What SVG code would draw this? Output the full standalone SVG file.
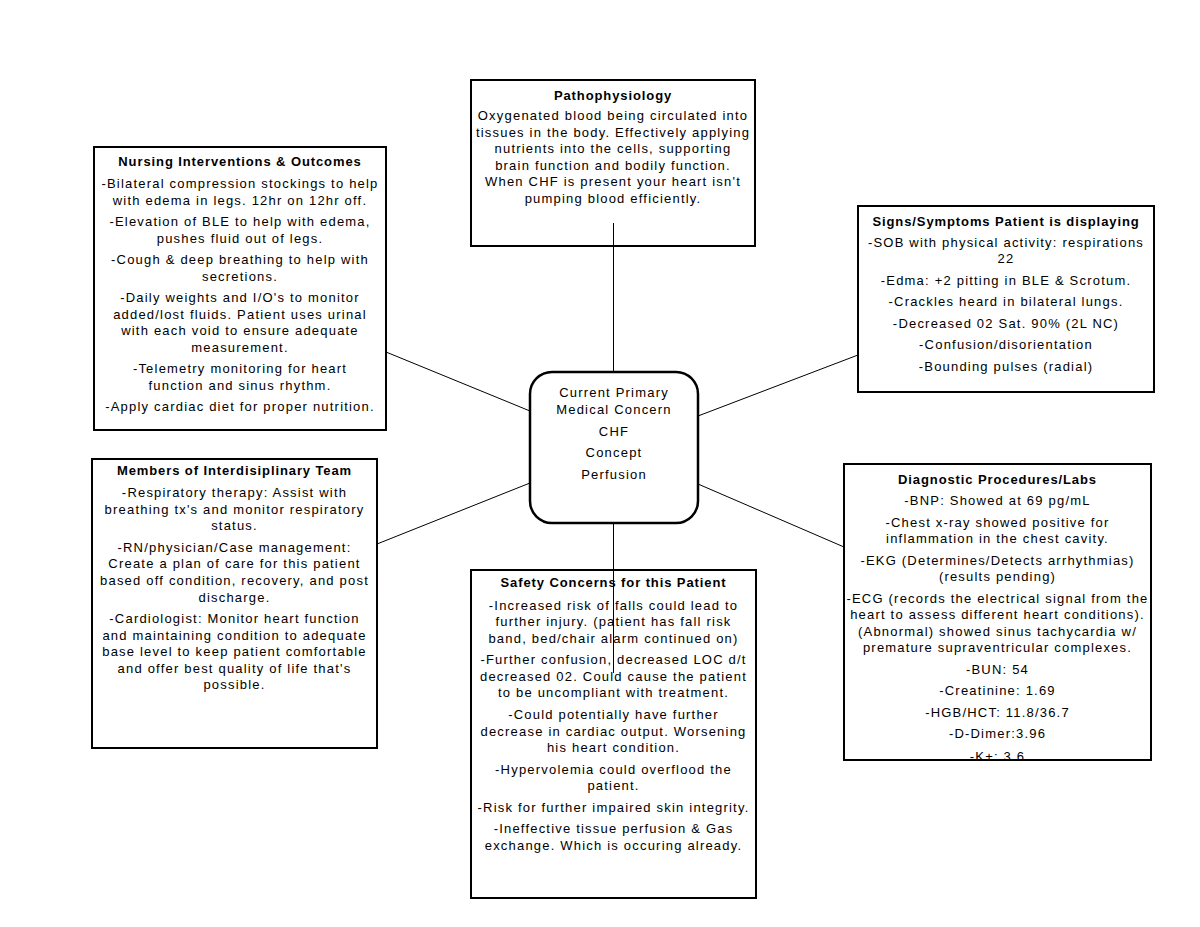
<svg xmlns="http://www.w3.org/2000/svg" width="1200" height="927" viewBox="0 0 1200 927">
<style>
.box{fill:#fff;stroke:#000;stroke-width:2}
.t{font-family:"Liberation Sans",Arial,sans-serif;font-size:13px;letter-spacing:1.2px;text-anchor:middle;fill:#000}
.h{font-weight:bold;letter-spacing:0.9px}
.c{stroke:#000;stroke-width:1;fill:none}
</style>
<defs>
<clipPath id="diagClip"><rect x="844" y="464" width="307" height="296"/></clipPath>
</defs>
<rect width="1200" height="927" fill="#fff"/>

<g id="patho">
<rect class="box" x="471" y="80" width="284" height="166"/>
<text class="t h" x="613" y="99.5">Pathophysiology</text>
<text class="t" x="613" y="120">Oxygenated blood being circulated into</text>
<text class="t" x="613" y="136.6">tissues in the body. Effectively applying</text>
<text class="t" x="613" y="153.2">nutrients into the cells, supporting</text>
<text class="t" x="613" y="169.8">brain function and bodily function.</text>
<text class="t" x="613" y="186.4">When CHF is present your heart isn't</text>
<text class="t" x="613" y="203">pumping blood efficiently.</text>
</g>

<g id="nursing">
<rect class="box" x="94" y="147" width="292" height="283"/>
<text class="t h" x="240" y="166">Nursing Interventions &amp; Outcomes</text>
<text class="t" x="240" y="188">-Bilateral compression stockings to help</text>
<text class="t" x="240" y="204.6">with edema in legs. 12hr on 12hr off.</text>
<text class="t" x="240" y="226">-Elevation of BLE to help with edema,</text>
<text class="t" x="240" y="242.6">pushes fluid out of legs.</text>
<text class="t" x="240" y="264">-Cough &amp; deep breathing to help with</text>
<text class="t" x="240" y="280.6">secretions.</text>
<text class="t" x="240" y="302">-Daily weights and I/O's  to monitor</text>
<text class="t" x="240" y="318.6">added/lost fluids. Patient uses urinal</text>
<text class="t" x="240" y="335.2">with each void to ensure adequate</text>
<text class="t" x="240" y="351.8">measurement.</text>
<text class="t" x="240" y="373.3">-Telemetry monitoring for heart</text>
<text class="t" x="240" y="389.9">function and sinus rhythm.</text>
<text class="t" x="240" y="411.4">-Apply cardiac diet for proper nutrition.</text>
</g>

<g id="signs">
<rect class="box" x="858" y="206" width="296" height="186"/>
<text class="t h" x="1006" y="226">Signs/Symptoms Patient is displaying</text>
<text class="t" x="1006" y="246.5">-SOB with physical activity: respirations</text>
<text class="t" x="1006" y="263">22</text>
<text class="t" x="1006" y="284.5">-Edma: +2 pitting in BLE &amp; Scrotum.</text>
<text class="t" x="1006" y="306">-Crackles heard in bilateral lungs.</text>
<text class="t" x="1006" y="327.5">-Decreased 02 Sat. 90% (2L NC)</text>
<text class="t" x="1006" y="349">-Confusion/disorientation</text>
<text class="t" x="1006" y="370.5">-Bounding pulses (radial)</text>
</g>

<g id="center">
<rect class="box" x="530" y="372" width="168" height="151" rx="22" ry="22" style="stroke-width:2.5"/>
<text class="t" x="614" y="396.5">Current Primary</text>
<text class="t" x="614" y="413.5">Medical Concern</text>
<text class="t" x="614" y="435.5">CHF</text>
<text class="t" x="614" y="456.5">Concept</text>
<text class="t" x="614" y="478.5">Perfusion</text>
</g>

<g id="members">
<rect class="box" x="92" y="459" width="285" height="289"/>
<text class="t h" x="234.5" y="475">Members of Interdisiplinary Team</text>
<text class="t" x="234.5" y="497">-Respiratory therapy: Assist with</text>
<text class="t" x="234.5" y="513.6">breathing tx's and monitor respiratory</text>
<text class="t" x="234.5" y="530.2">status.</text>
<text class="t" x="234.5" y="551.7">-RN/physician/Case management:</text>
<text class="t" x="234.5" y="568.3">Create a plan of care for this patient</text>
<text class="t" x="234.5" y="584.9">based off condition, recovery, and post</text>
<text class="t" x="234.5" y="601.5">discharge.</text>
<text class="t" x="234.5" y="623">-Cardiologist: Monitor heart function</text>
<text class="t" x="234.5" y="639.6">and maintaining condition to adequate</text>
<text class="t" x="234.5" y="656.2">base level to keep patient comfortable</text>
<text class="t" x="234.5" y="672.8">and offer best quality of life that's</text>
<text class="t" x="234.5" y="689.4">possible.</text>
</g>

<g id="diagnostic">
<rect class="box" x="844" y="464" width="307" height="296"/>
<g clip-path="url(#diagClip)">
<text class="t h" x="997.5" y="483.5">Diagnostic Procedures/Labs</text>
<text class="t" x="997.5" y="505">-BNP: Showed at 69 pg/mL</text>
<text class="t" x="997.5" y="526.5">-Chest x-ray showed positive for</text>
<text class="t" x="997.5" y="543">inflammation in the chest cavity.</text>
<text class="t" x="997.5" y="564.5">-EKG (Determines/Detects arrhythmias)</text>
<text class="t" x="997.5" y="581">(results pending)</text>
<text class="t" x="997.5" y="602.5">-ECG (records the electrical signal from the</text>
<text class="t" x="997.5" y="619">heart to assess different heart conditions).</text>
<text class="t" x="997.5" y="635.5">(Abnormal) showed sinus tachycardia w/</text>
<text class="t" x="997.5" y="652">premature supraventricular complexes.</text>
<text class="t" x="997.5" y="673.5">-BUN: 54</text>
<text class="t" x="997.5" y="695">-Creatinine: 1.69</text>
<text class="t" x="997.5" y="716.5">-HGB/HCT: 11.8/36.7</text>
<text class="t" x="997.5" y="738">-D-Dimer:3.96</text>
<text class="t" x="997.5" y="760.5">-K+: 3.6</text>
</g>
<rect x="844" y="464" width="307" height="296" fill="none" stroke="#000" stroke-width="2"/>
</g>

<g id="safety">
<rect class="box" x="471" y="570" width="285" height="328"/>
<text class="t h" x="613.5" y="587">Safety Concerns for this Patient</text>
<text class="t" x="613.5" y="609.5">-Increased risk of falls could lead to</text>
<text class="t" x="613.5" y="626.1">further injury. (patient has fall risk</text>
<text class="t" x="613.5" y="642.7">band, bed/chair alarm continued on)</text>
<text class="t" x="613.5" y="664.2">-Further confusion, decreased LOC d/t</text>
<text class="t" x="613.5" y="680.8">decreased 02. Could cause the patient</text>
<text class="t" x="613.5" y="697.4">to be uncompliant with treatment.</text>
<text class="t" x="613.5" y="718.9">-Could potentially have further</text>
<text class="t" x="613.5" y="735.5">decrease in cardiac output. Worsening</text>
<text class="t" x="613.5" y="752.1">his heart condition.</text>
<text class="t" x="613.5" y="773.6">-Hypervolemia could overflood the</text>
<text class="t" x="613.5" y="790.2">patient.</text>
<text class="t" x="613.5" y="811.7">-Risk for further impaired skin integrity.</text>
<text class="t" x="613.5" y="833.2">-Ineffective tissue perfusion &amp; Gas</text>
<text class="t" x="613.5" y="849.8">exchange. Which is occuring already.</text>
</g>

<g id="connectors">
<line class="c" x1="613.5" y1="223" x2="613.5" y2="372"/>
<line class="c" x1="613.5" y1="523" x2="613.5" y2="673"/>
<line class="c" x1="386" y1="352" x2="530" y2="411"/>
<line class="c" x1="377" y1="544" x2="530" y2="483"/>
<line class="c" x1="698" y1="416" x2="858" y2="355"/>
<line class="c" x1="698" y1="484" x2="844" y2="547"/>
</g>
</svg>
